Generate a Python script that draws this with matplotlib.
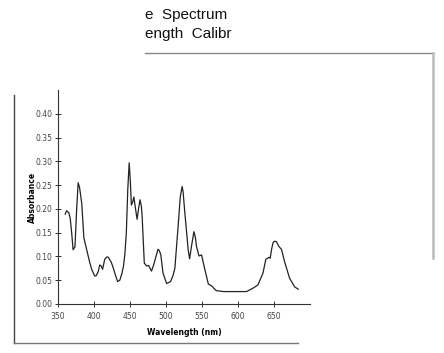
import matplotlib
matplotlib.use("Agg")
import matplotlib.pyplot as plt
from matplotlib.lines import Line2D

wavelength = [360, 362, 365, 367, 369, 371, 373.6, 376, 378, 380, 383, 386, 391, 394, 397, 401, 403,
              406, 408, 410, 412, 415, 418, 420, 424,
              427, 430, 433, 436, 439, 441, 443, 445, 447, 449, 450.5, 452, 454, 455.5, 458, 460, 462,
              464, 466, 467, 470, 473, 476, 480,
              483, 485, 489, 491, 493, 496, 501, 506.5, 510, 512.5, 517, 520, 522.6, 524, 526, 531, 533,
              536, 539, 541, 542.6, 546,
              549.6, 553, 559, 563.5, 566, 570, 575, 580, 590, 612, 621, 628, 635, 639, 643.5, 645,
              647, 649, 651, 653.7, 657, 660.7, 665, 672, 679, 684]
absorbance = [0.189, 0.196, 0.192, 0.180, 0.150, 0.114, 0.120, 0.200, 0.255, 0.245, 0.212, 0.139,
              0.107, 0.088, 0.072, 0.059, 0.059,
              0.068, 0.082, 0.080, 0.073, 0.094, 0.099, 0.098, 0.088,
              0.075, 0.060, 0.047, 0.050, 0.065, 0.079, 0.105, 0.149, 0.240, 0.297, 0.260, 0.208,
              0.215, 0.225, 0.198, 0.178, 0.200,
              0.219, 0.205, 0.184, 0.086, 0.080, 0.081, 0.069,
              0.082, 0.093, 0.115, 0.112, 0.103, 0.065,
              0.043, 0.047, 0.060, 0.075, 0.163, 0.225, 0.247, 0.235, 0.198, 0.114, 0.095,
              0.125, 0.152, 0.140, 0.121, 0.101, 0.103,
              0.080, 0.042, 0.038, 0.034, 0.028, 0.027, 0.026, 0.026, 0.026, 0.033, 0.040, 0.065, 0.094,
              0.098, 0.096, 0.115, 0.129, 0.132, 0.131, 0.121, 0.115, 0.089, 0.054, 0.036, 0.031]
xticks = [350, 400, 450, 500, 550, 600, 650]
yticks = [0.00, 0.05, 0.10, 0.15, 0.20, 0.25, 0.30, 0.35, 0.40]
title_line1 = "e  Spectrum"
title_line2 = "ength  Calibr"

fig = plt.figure(figsize=(4.44, 3.53), dpi=100)
ax = fig.add_axes([0.1306, 0.139, 0.567, 0.606])
ax.plot(wavelength, absorbance, color="#222222", lw=0.9)
ax.set_xlim(350, 700)
ax.set_ylim(0, 0.45)
ax.set_xticks(xticks)
ax.set_xticklabels([str(v) for v in xticks])
ax.set_yticks(yticks)
ax.set_yticklabels([f"{v:.2f}" for v in yticks])
for s in ["top", "right"]:
    ax.spines[s].set_visible(False)
for s in ["left", "bottom"]:
    ax.spines[s].set_linewidth(0.8)
    ax.spines[s].set_color("#333333")
ax.tick_params(direction="inout", length=4, width=0.7, colors="#333333",
               labelsize=5.5, labelcolor="#444444")
ax.tick_params(axis="x", pad=4)
ax.tick_params(axis="y", pad=2)
ax.set_xlabel("Wavelength (nm)", fontsize=5.5, fontweight="bold", labelpad=5)
ax.set_ylabel("Absorbance", fontsize=5.5, fontweight="bold", labelpad=-1)

fig.text(145 / 444, 1 - 15 / 353, title_line1, fontsize=11, family="Liberation Sans",
         va="center", ha="left", color="#111111")
fig.text(145 / 444, 1 - 34 / 353, title_line2, fontsize=11, family="Liberation Sans",
         va="center", ha="left", color="#111111")

fig.add_artist(Line2D([145 / 444, 433 / 444], [1 - 53 / 353, 1 - 53 / 353],
                      color="#888888", lw=1.0, transform=fig.transFigure))
fig.add_artist(Line2D([433 / 444, 433 / 444], [1 - 53 / 353, 1 - 258 / 353],
                      color="#bbbbbb", lw=1.8, transform=fig.transFigure))
fig.add_artist(Line2D([14 / 444, 14 / 444], [1 - 95 / 353, 1 - 343 / 353],
                      color="#444444", lw=1.0, transform=fig.transFigure))
fig.add_artist(Line2D([14 / 444, 298 / 444], [1 - 343 / 353, 1 - 343 / 353],
                      color="#777777", lw=1.0, transform=fig.transFigure))

fig.savefig("out.png", dpi=100)
